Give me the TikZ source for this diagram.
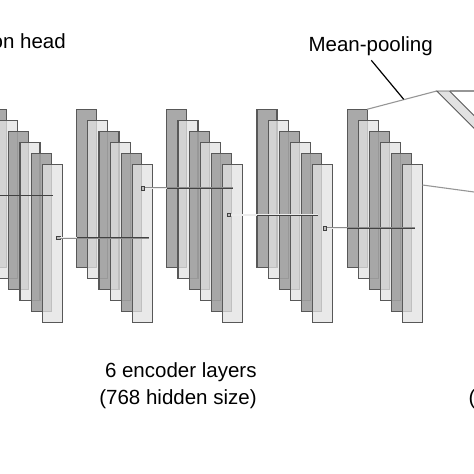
\documentclass[tikz,border=0pt]{standalone}
\usepackage{fontspec}
\setmainfont{Liberation Sans}
\definecolor{darkfill}{RGB}{160,160,160}
\definecolor{lightfill}{RGB}{226,226,226}
\definecolor{edgecol}{RGB}{88,88,88}
\definecolor{linkcol}{RGB}{150,150,150}
\definecolor{wirecol}{RGB}{65,65,65}
\begin{document}
\begin{tikzpicture}[x=1pt,y=-1pt,
  layer/.style={rectangle, draw=edgecol, line width=1.1pt, minimum width=20pt,
    minimum height=158pt, inner sep=0pt, outer sep=0pt, anchor=north west},
  sqmark/.style={rectangle, draw=wirecol, fill=gray!50, line width=0.7pt,
    minimum size=3.2pt, inner sep=0pt},
  band/.style={draw=gray!90, line width=0.55pt, double=gray!15, double distance=1.2pt},
  wire/.style={draw=wirecol, line width=1pt},
  link/.style={draw=linkcol, line width=1.1pt},
  pointer/.style={draw=black, line width=1.2pt},
  lbl/.style={inner sep=0pt, font=\fontsize{20.5}{24}\selectfont}]
\useasboundingbox (0,0) rectangle (474,474);
\clip (0,0) rectangle (474,474);

% encoder layer stacks
\foreach \g in {0,...,4} {
  \foreach \i/\fc/\op in {0/darkfill/0.9,1/lightfill/0.75,2/darkfill/0.9,
                          3/lightfill/0.75,4/darkfill/0.9,5/lightfill/0.75} {
    \pgfmathsetmacro{\xx}{-13.3+90.1*\g+11.1*\i}
    \pgfmathsetmacro{\yy}{109.3+11.1*\i}
    \node[layer, fill=\fc, fill opacity=\op] (g\g-\i) at (\xx,\yy) {};
  }
}

% wires between stacks
\coordinate (in0) at (-20,195);
\coordinate (e0) at (53.3,195);
\draw[wire] (in0) -- (e0);

\node[sqmark] (s0) at (58.3,237.7) {};
\coordinate (e1) at (149,237.7);
\draw[band] (s0.east) -- (e1);
\draw[wire] (g1-0.west |- s0) -- (e1);

\node[sqmark] (s1) at (143,188.3) {};
\coordinate (e2) at (232.7,188.3);
\draw[band] (s1.east) -- (e2);
\draw[wire] (g2-0.west |- s1) -- (e2);

\node[sqmark] (s2) at (229,215) {};
\coordinate (e3) at (318.3,215);
\draw[band] (s2.east) -- (e3);
\draw[wire] (g3-0.west |- s2) -- (e3);

\node[sqmark] (s3) at (324.7,228.3) {};
\coordinate (e4) at (415.3,228.3);
\draw[band] (s3.east) -- (e4);
\draw[wire] (g4-0.west |- s3) -- (e4);

% mean pooling
\coordinate (btl) at (436.7,91);
\coordinate (btr) at (449.5,91);
\coordinate (topend) at (480,91);
\draw[link] (g4-0.north east) -- (btl);
\draw[link] (btr) -- (topend);
\draw[draw=gray!70!black, line width=0.9pt, fill=lightfill]
  (btl) -- (btr) -- ++(50,50) -- ([shift={(50,50)}]btl) -- cycle;
\coordinate (outA) at (422.5,185);
\coordinate (outB) at (480,192.8);
\draw[link] (outA) -- (outB);

\node[lbl, anchor=base] (mp) at (370.7,51.7) {Mean-pooling};
\coordinate (pa) at (371.3,60.3);
\coordinate (pb) at (403.7,99.3);
\draw[pointer] (pa) -- (pb);

% labels
\node[lbl, anchor=base east] (head) at (66,48.7) {on head};
\node[lbl, anchor=base] (enc1) at (180.8,377.6) {6 encoder layers};
\node[lbl, anchor=base] (enc2) at (178,404.6) {(768 hidden size)};
\node[lbl, anchor=base west] (par) at (468.3,404.6) {(};
\end{tikzpicture}
\end{document}
